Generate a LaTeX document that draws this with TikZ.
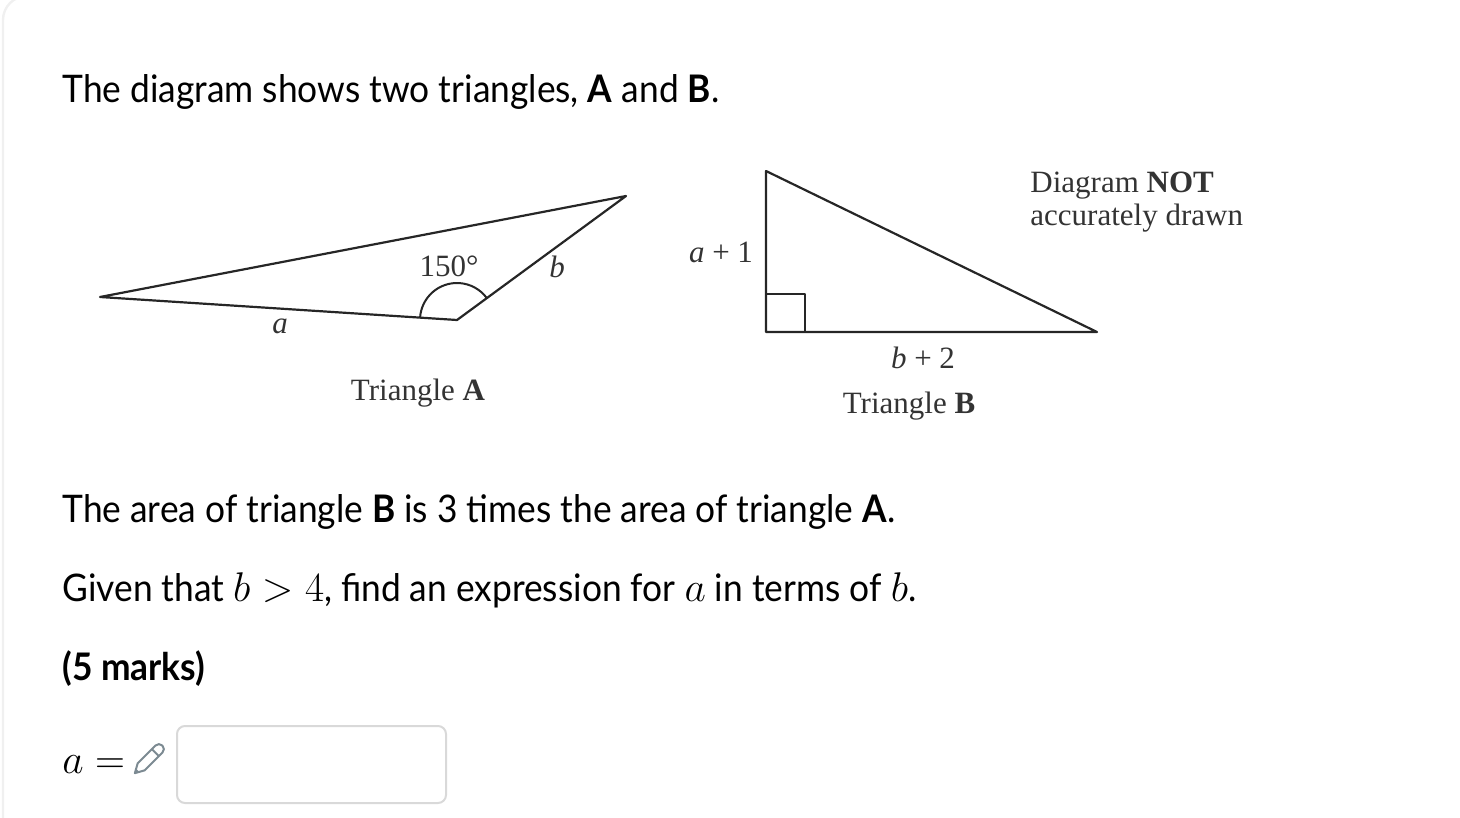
\documentclass[tikz,border=0pt]{standalone}
\usepackage{fontspec}
\setmainfont{Lato}[FakeStretch=0.93]
\newfontfamily\timesf{Liberation Serif}
\usetikzlibrary{calc}
\newcommand\mth[1]{{\fontsize{22.5}{23}\selectfont$#1$}}
\begin{document}
\begin{tikzpicture}[x=0.5pt,y=-0.5pt,
  line join=round,
  tri/.style={draw=black!85, line width=1.1pt},
  lbl/.style={font=\timesf\fontsize{15.5}{18}\selectfont, text=black!80, inner sep=0pt},
  body/.style={font=\fontsize{19}{23}\selectfont, inner sep=0pt, anchor=base west},
  answer/.style={draw=black!15, line width=1pt, rounded corners=4pt}]
\useasboundingbox (0,0) rectangle (1460,818);
\begin{scope}
\clip (0,0) rectangle (1460,818);
\draw[black!6, line width=1.2pt, rounded corners=12pt] (3,-4) rectangle (1520,900);
\end{scope}
% heading
\node[body] (head) at (62,103) {The diagram shows two triangles, \textbf{A} and \textbf{B}.};
% triangle A
\coordinate (AL) at (100,297);
\coordinate (AB) at (457,320);
\coordinate (AT) at (626,196);
\draw[tri] (AL) -- (AB) -- (AT) -- cycle;
\draw[tri, line width=1pt] (AB) ++(183.69:37) arc[start angle=183.69, end angle=323.73, radius=37];
\node[lbl, anchor=base] (ang) at (449,277) {150°};
\node[lbl, anchor=base] (lb) at (557,278) {\itshape b};
\node[lbl, anchor=base] (la) at (280,333) {\itshape a};
\node[lbl, anchor=base] (tA) at (418,400) {Triangle \textbf{A}};
% triangle B
\coordinate (BT) at (766,171);
\coordinate (BL) at (766,332);
\coordinate (BR) at (1097,332);
\draw[tri] (BT) -- (BL) -- (BR) -- cycle;
\draw[tri, line width=1pt] (766,294) -- (805,294) -- (805,332);
\node[lbl, anchor=base] (la1) at (721,263) {\itshape a\upshape\ + 1};
\node[lbl, anchor=base] (lb2) at (923,368) {\itshape b\upshape\ + 2};
\node[lbl, anchor=base] (tB) at (909,413) {Triangle \textbf{B}};
\node[lbl, anchor=base west] (n1) at (1030,192) {Diagram \textbf{NOT}};
\node[lbl, anchor=base west] (n2) at (1030,226) {accurately drawn};
% question text
\node[body] (q1) at (62,522) {The area of triangle \textbf{B} is 3 times the area of triangle \textbf{A}.};
\node[body] (q2) at (62,601) {Given that \mth{b>4}, find an expression for \mth{a} in terms of \mth{b}.};
\node[body] (q3) at (62,680) {\textbf{(5 marks)}};
% answer line
\node[body] (aeq) at (62,773) {\mth{a=}};
\begin{scope}[shift={(149,759)}, rotate=45, color=black!45!cyan!30!gray]
\draw[line width=1pt, line join=round, fill=white] (-11,-5) -- (14,-5) arc[start angle=-90, end angle=90, radius=5] -- (-11,5) -- (-20,0) -- cycle;
\draw[line width=1pt] (9,-5) -- (9,5);
\fill (-20,0) -- (-16,-2.3) -- (-16,2.3) -- cycle;
\end{scope}
\node[answer, minimum width=134.5pt, minimum height=38.5pt, anchor=north west] (box) at (176,725) {};
\end{tikzpicture}
\end{document}
